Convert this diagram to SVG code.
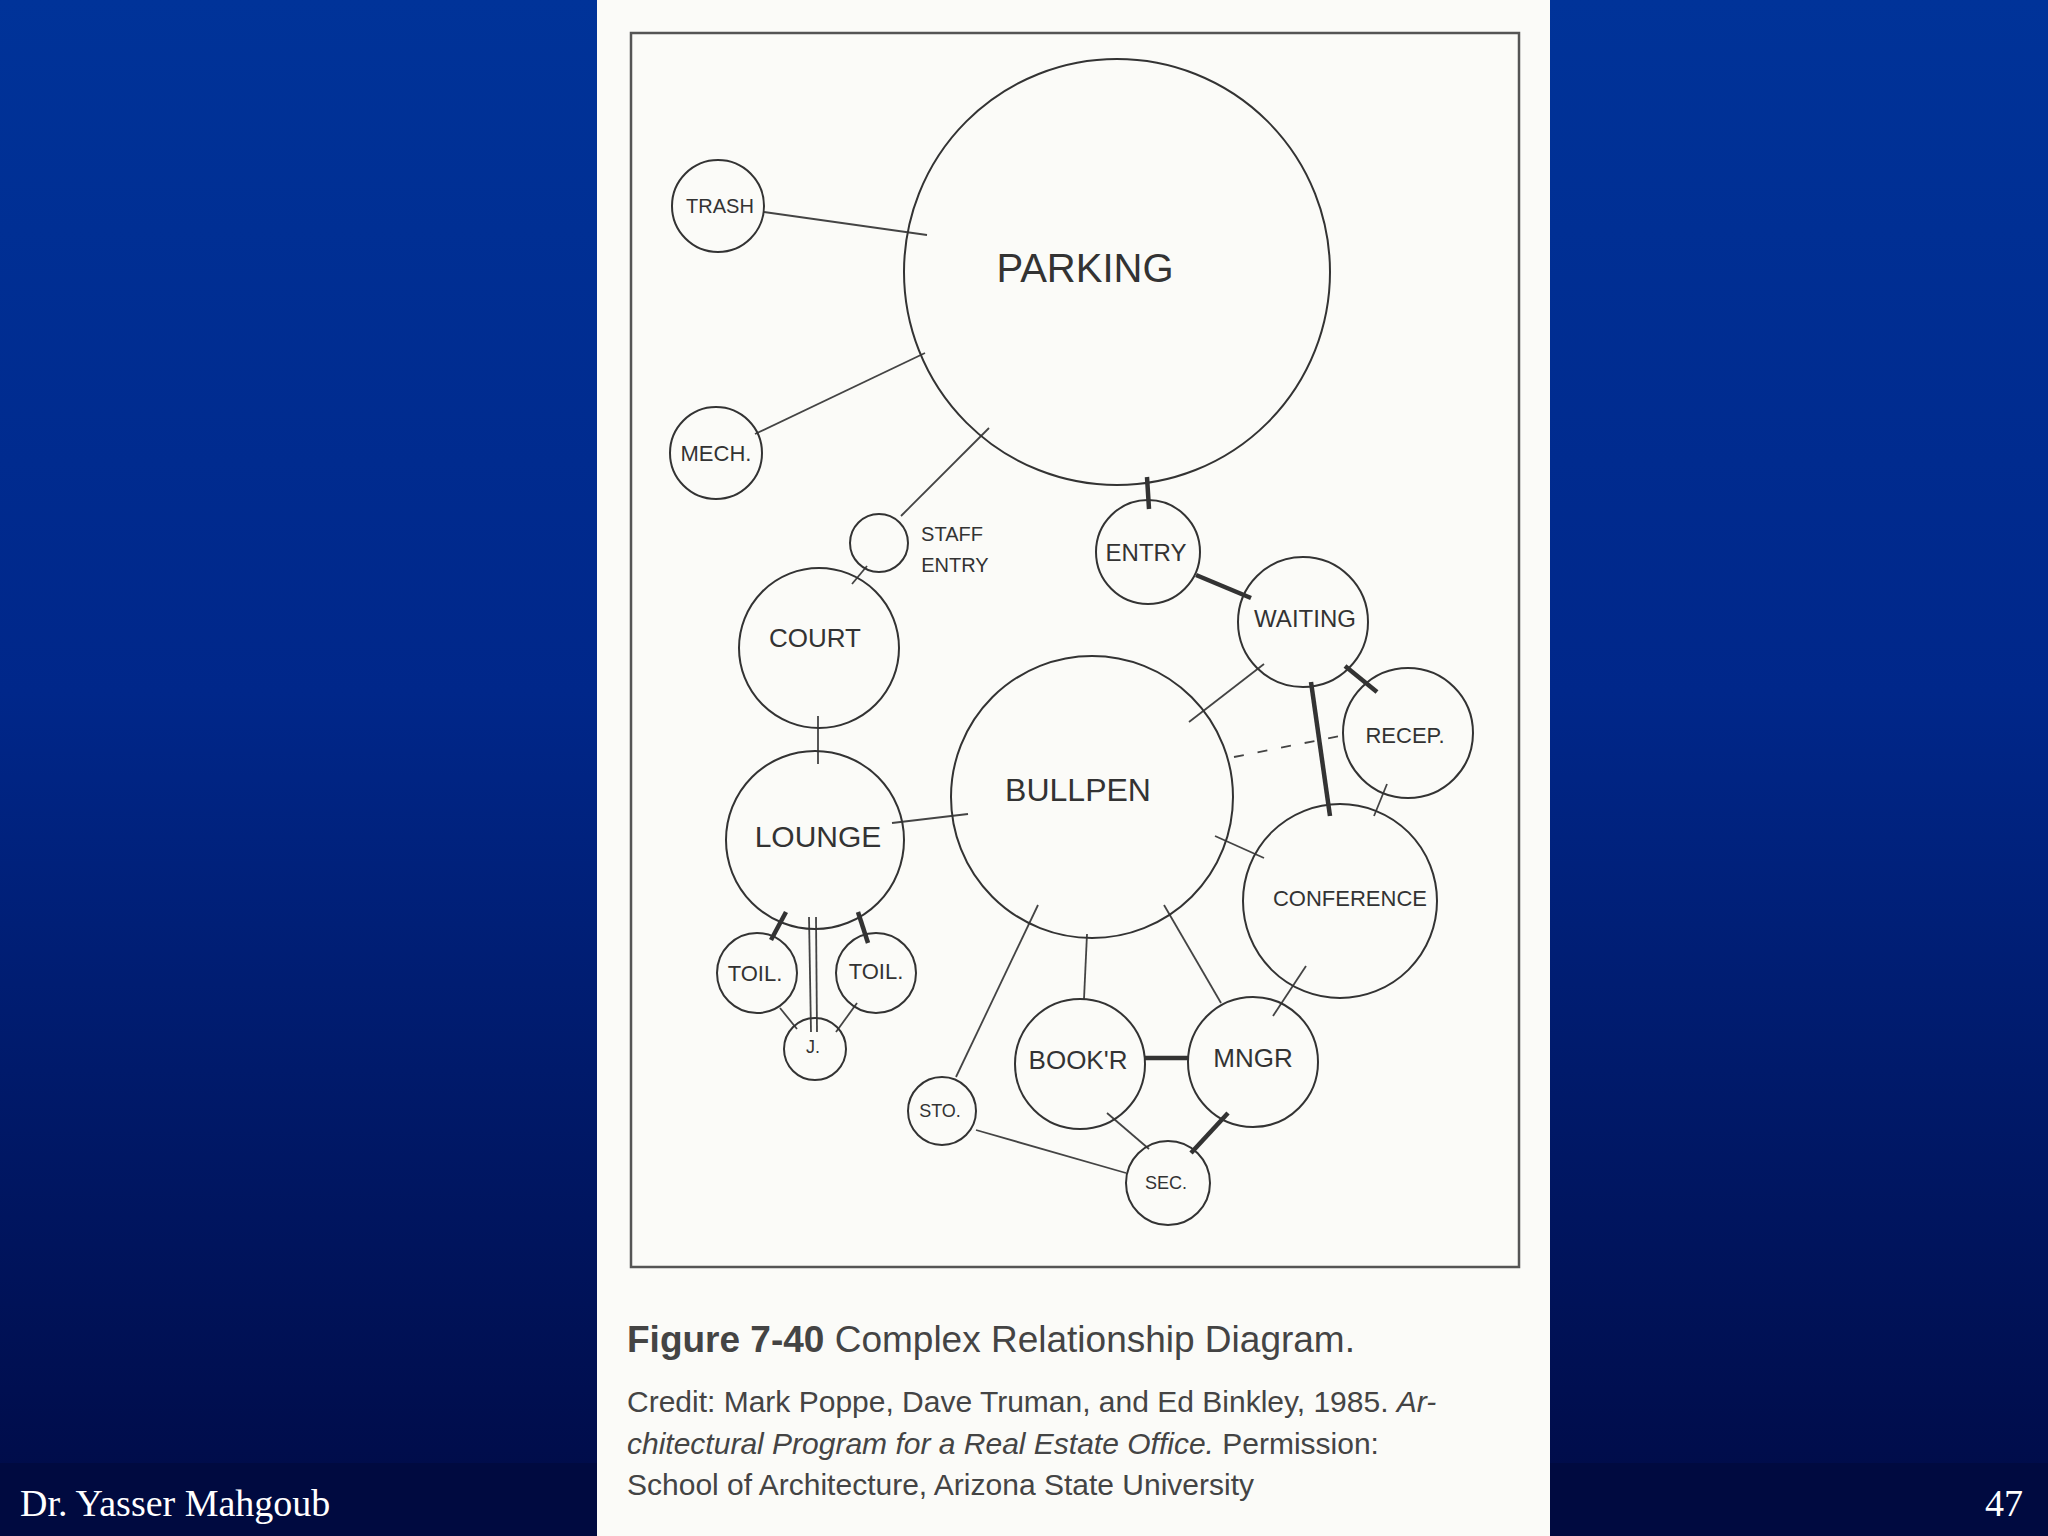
<svg xmlns="http://www.w3.org/2000/svg" width="2048" height="1536" viewBox="0 0 2048 1536">
<defs>
<linearGradient id="bg" x1="0" y1="0" x2="0" y2="1">
<stop offset="0" stop-color="#003399"/><stop offset="0.45" stop-color="#00278a"/><stop offset="1" stop-color="#000a45"/>
</linearGradient>
<style>
.n{fill:none;stroke:#333;stroke-width:2}
.l{stroke:#444;stroke-width:1.8;fill:none}
.b{stroke:#333;stroke-width:4.5;fill:none}
.t{font-family:"Liberation Sans",Arial,sans-serif;fill:#333;text-anchor:middle;dominant-baseline:central}
.c{font-family:"Liberation Sans",Arial,sans-serif;fill:#444}
</style>
</defs>
<rect width="2048" height="1536" fill="url(#bg)"/>
<rect x="0" y="1463" width="2048" height="73" fill="#000a40"/>
<rect x="597" y="0" width="953" height="1536" fill="#fbfbf8"/>
<rect x="631" y="33" width="888" height="1234" fill="none" stroke="#555" stroke-width="2.5"/>
<g id="connectors">
<line class="l" x1="764" y1="212" x2="927" y2="235"/>
<line class="l" x1="755" y1="434" x2="925" y2="353"/>
<line class="l" x1="989" y1="428" x2="901" y2="516"/>
<line class="b" x1="1147" y1="477" x2="1149" y2="509"/>
<line class="b" x1="1196" y1="575" x2="1251" y2="598"/>
<line class="l" x1="867" y1="566" x2="852" y2="584"/>
<line class="l" x1="818" y1="716" x2="818" y2="764"/>
<line class="l" x1="892" y1="823" x2="968" y2="814"/>
<line class="l" x1="1189" y1="722" x2="1264" y2="664"/>
<line class="b" x1="1345" y1="666" x2="1377" y2="692"/>
<line class="b" x1="1311" y1="682" x2="1330" y2="816"/>
<line class="l" x1="1234" y1="757" x2="1345" y2="735" stroke-dasharray="10,14"/>
<line class="l" x1="1215" y1="836" x2="1264" y2="858"/>
<line class="l" x1="1387" y1="784" x2="1374" y2="816"/>
<line class="b" x1="786" y1="912" x2="771" y2="940"/>
<line class="b" x1="858" y1="912" x2="868" y2="943"/>
<line class="l" x1="809" y1="917" x2="811" y2="1032"/>
<line class="l" x1="816" y1="917" x2="817" y2="1032"/>
<line class="l" x1="780" y1="1008" x2="797" y2="1029"/>
<line class="l" x1="857" y1="1003" x2="836" y2="1032"/>
<line class="l" x1="1087" y1="934" x2="1084" y2="999"/>
<line class="l" x1="1164" y1="905" x2="1221" y2="1003"/>
<line class="l" x1="1038" y1="905" x2="956" y2="1077"/>
<line class="l" x1="1306" y1="966" x2="1273" y2="1016"/>
<line class="b" x1="1145" y1="1058" x2="1188" y2="1058"/>
<line class="b" x1="1228" y1="1113" x2="1191" y2="1153"/>
<line class="l" x1="1107" y1="1113" x2="1149" y2="1149"/>
<line class="l" x1="976" y1="1130" x2="1126" y2="1173"/>
</g>
<g id="parking"><circle class="n" cx="1117" cy="272" r="213"/><text class="t" x="1085" y="268" font-size="40">PARKING</text></g>
<g id="trash"><circle class="n" cx="718" cy="206" r="46"/><text class="t" x="720" y="206" font-size="20">TRASH</text></g>
<g id="mech"><circle class="n" cx="716" cy="453" r="46"/><text class="t" x="716" y="453" font-size="22">MECH.</text></g>
<g id="staff-entry"><circle class="n" cx="879" cy="543" r="29"/><text class="t" x="952" y="534" font-size="20">STAFF</text><text class="t" x="955" y="565" font-size="20">ENTRY</text></g>
<g id="entry"><circle class="n" cx="1148" cy="552" r="52"/><text class="t" x="1146" y="552" font-size="24">ENTRY</text></g>
<g id="waiting"><circle class="n" cx="1303" cy="622" r="65"/><text class="t" x="1305" y="618" font-size="24">WAITING</text></g>
<g id="court"><circle class="n" cx="819" cy="648" r="80"/><text class="t" x="815" y="638" font-size="26">COURT</text></g>
<g id="bullpen"><circle class="n" cx="1092" cy="797" r="141"/><text class="t" x="1078" y="790" font-size="32">BULLPEN</text></g>
<g id="recep"><circle class="n" cx="1408" cy="733" r="65"/><text class="t" x="1405" y="735" font-size="22">RECEP.</text></g>
<g id="lounge"><circle class="n" cx="815" cy="840" r="89"/><text class="t" x="818" y="836" font-size="30">LOUNGE</text></g>
<g id="conference"><circle class="n" cx="1340" cy="901" r="97"/><text class="t" x="1350" y="898" font-size="22">CONFERENCE</text></g>
<g id="toil-left"><circle class="n" cx="757" cy="973" r="40"/><text class="t" x="755" y="973" font-size="22">TOIL.</text></g>
<g id="toil-right"><circle class="n" cx="876" cy="973" r="40"/><text class="t" x="876" y="971" font-size="22">TOIL.</text></g>
<g id="j"><circle class="n" cx="815" cy="1049" r="31"/><text class="t" x="813" y="1047" font-size="18">J.</text></g>
<g id="bookr"><circle class="n" cx="1080" cy="1064" r="65"/><text class="t" x="1078" y="1060" font-size="26">BOOK'R</text></g>
<g id="mngr"><circle class="n" cx="1253" cy="1062" r="65"/><text class="t" x="1253" y="1058" font-size="26">MNGR</text></g>
<g id="sto"><circle class="n" cx="942" cy="1111" r="34"/><text class="t" x="940" y="1111" font-size="18">STO.</text></g>
<g id="sec"><circle class="n" cx="1168" cy="1183" r="42"/><text class="t" x="1166" y="1183" font-size="18">SEC.</text></g>
<g id="caption">
<text class="c" x="627" y="1352" font-size="37"><tspan font-weight="bold">Figure 7-40</tspan>   Complex Relationship Diagram.</text>
<text class="c" x="627" y="1412" font-size="30">Credit: Mark Poppe, Dave Truman, and Ed Binkley, 1985. <tspan font-style="italic">Ar-</tspan></text>
<text class="c" x="627" y="1454" font-size="30"><tspan font-style="italic">chitectural Program for a Real Estate Office.</tspan> Permission:</text>
<text class="c" x="627" y="1495" font-size="30">School of Architecture, Arizona State University</text>
</g>
<text x="20" y="1516" font-family="Liberation Serif,serif" font-size="38" fill="#fff">Dr. Yasser Mahgoub</text>
<text x="1985" y="1516" font-family="Liberation Serif,serif" font-size="38" fill="#fff">47</text>
</svg>
